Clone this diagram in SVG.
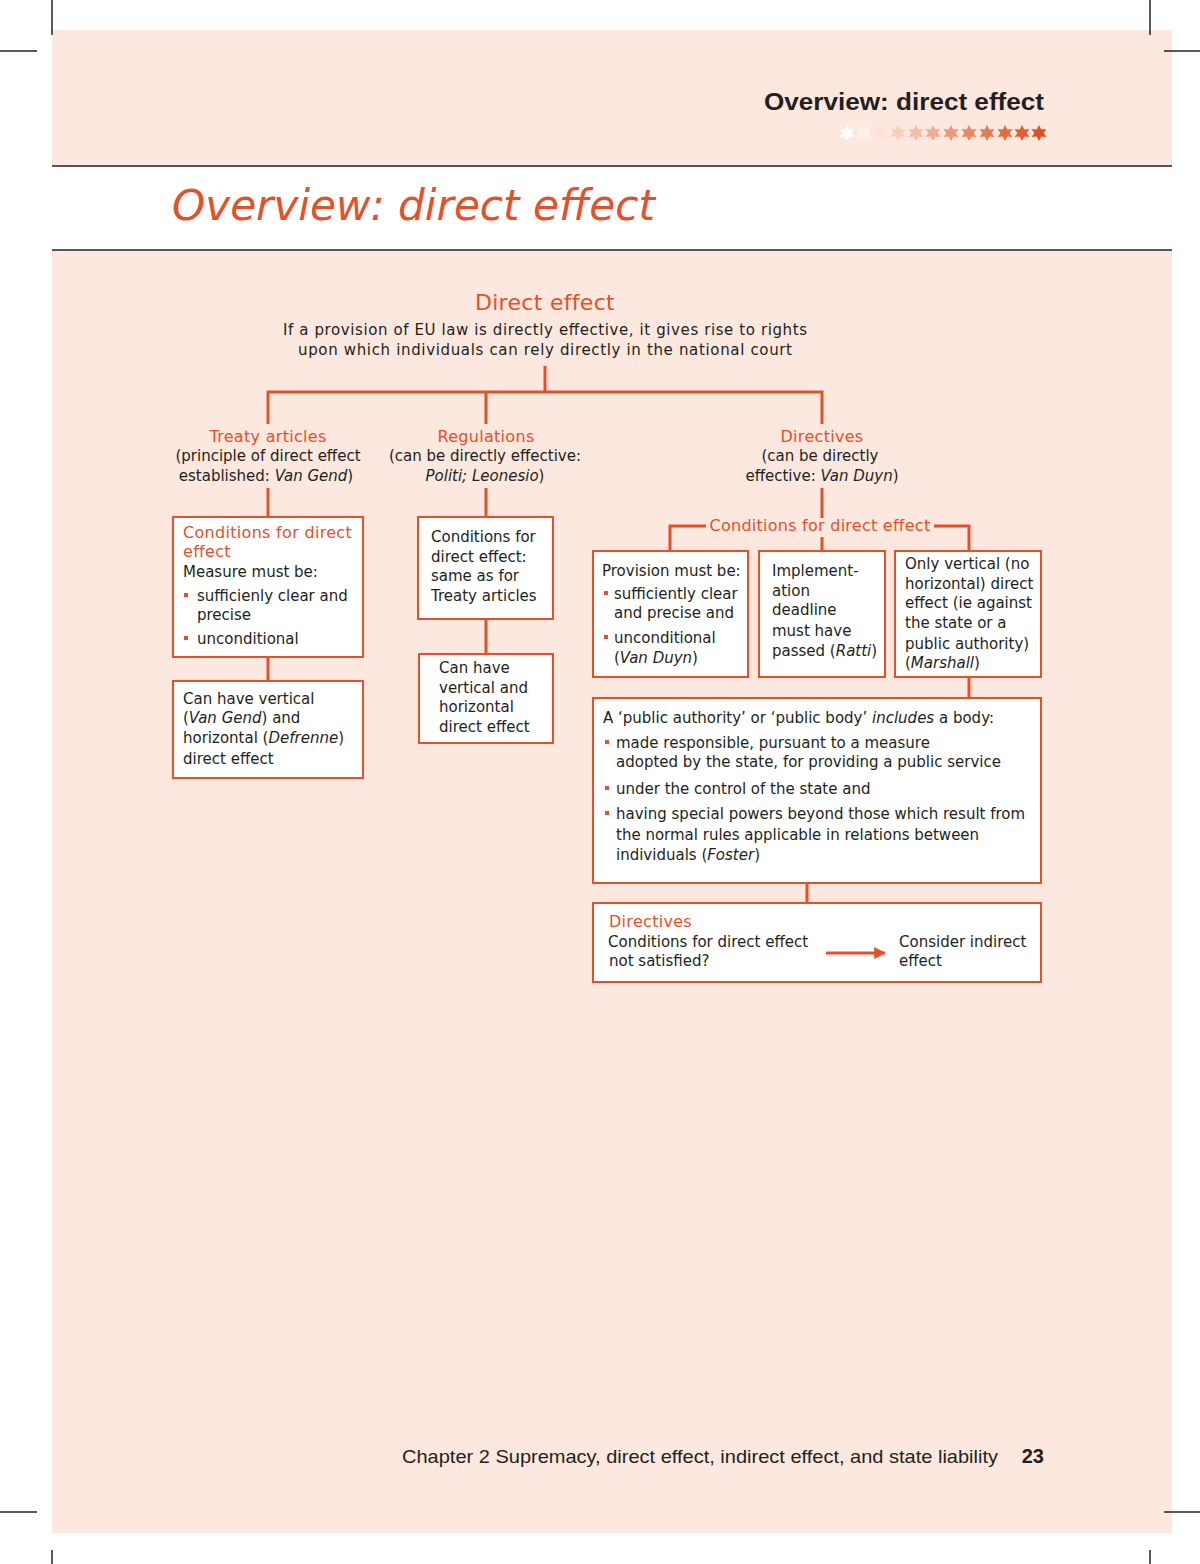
<svg xmlns="http://www.w3.org/2000/svg" width="1200" height="1564" viewBox="0 0 1200 1564">
<style>
.t{font-family:"DejaVu Sans","Liberation Sans",sans-serif;font-size:15px;fill:#231f20}
.o{fill:#e4502a;font-size:16px;letter-spacing:0.3px}
.big{font-size:22px}
.c{text-anchor:middle}
.i{font-style:italic}
.box{fill:#ffffff;stroke:#e4502a;stroke-width:2}
.ln{stroke:#e4502a;stroke-width:3;fill:none}
.crop{stroke:#222;stroke-width:1.5}
.bul{fill:#e4502a}
</style>
<defs>
<path id="star" d="M0,-8 L2.3,-3.5 L7.4,-4 L4.6,0 L7.4,4 L2.3,3.5 L0,8 L-2.3,3.5 L-7.4,4 L-4.6,0 L-7.4,-4 L-2.3,-3.5 Z"/>
<marker id="ah" viewBox="0 0 10 10" refX="9" refY="5" markerWidth="4" markerHeight="4" orient="auto" markerUnits="strokeWidth"><path d="M0,0 L10,5 L0,10 Z" fill="#e4502a"/></marker>
</defs>
<rect x="0" y="0" width="1200" height="1564" fill="#ffffff"/>
<rect x="52" y="30" width="1120" height="1503" fill="#fce8de"/>
<rect x="52" y="166" width="1120" height="84" fill="#ffffff"/>
<line x1="52" y1="166" x2="1172" y2="166" stroke="#555" stroke-width="2"/>
<line x1="52" y1="250" x2="1172" y2="250" stroke="#555" stroke-width="2"/>
<g id="cropmarks">
<line class="crop" x1="52" y1="0" x2="52" y2="35"/>
<line class="crop" x1="1150" y1="0" x2="1150" y2="35"/>
<line class="crop" x1="0" y1="51" x2="37" y2="51"/>
<line class="crop" x1="1164" y1="51" x2="1200" y2="51"/>
<line class="crop" x1="0" y1="1512" x2="37" y2="1512"/>
<line class="crop" x1="1164" y1="1512" x2="1200" y2="1512"/>
<line class="crop" x1="52" y1="1550" x2="52" y2="1564"/>
<line class="crop" x1="1150" y1="1550" x2="1150" y2="1564"/>
</g>
<g id="header">
<text x="1044" y="110" text-anchor="end" font-family="'Liberation Sans','Noto Sans',sans-serif" font-size="24" font-weight="bold" fill="#231f20" textLength="280" lengthAdjust="spacingAndGlyphs">Overview: direct effect</text>
<use href="#star" x="847" y="133" fill="#ffffff"/>
<use href="#star" x="864" y="133" fill="#fdf1eb"/>
<use href="#star" x="881" y="133" fill="#fbe3d8"/>
<use href="#star" x="898" y="133" fill="#f8cfbc"/>
<use href="#star" x="916" y="133" fill="#f5bda5"/>
<use href="#star" x="933" y="133" fill="#f2ab8e"/>
<use href="#star" x="951" y="133" fill="#ee9875"/>
<use href="#star" x="969" y="133" fill="#eb8862"/>
<use href="#star" x="987" y="133" fill="#e87a51"/>
<use href="#star" x="1005" y="133" fill="#e56b41"/>
<use href="#star" x="1022" y="133" fill="#e35d33"/>
<use href="#star" x="1039" y="133" fill="#e04e22"/>
</g>
<text x="172" y="220" font-family="'DejaVu Sans','Noto Sans',sans-serif" font-size="42" font-style="italic" font-weight="200" fill="#e4502a" textLength="483" lengthAdjust="spacingAndGlyphs">Overview: direct effect</text>

<g id="root">
<text class="t o c big" x="545" y="310">Direct effect</text>
<text class="t c" x="545" y="335" textLength="524">If a provision of EU law is directly effective, it gives rise to rights</text>
<text class="t c" x="545" y="355" textLength="494">upon which individuals can rely directly in the national court</text>
</g>

<g id="treaty">
<text class="t o c" x="268" y="442">Treaty articles</text>
<text class="t c" x="268" y="461">(principle of direct effect</text>
<text class="t c" x="266" y="481">established: <tspan class="i">Van Gend</tspan>)</text>
</g>
<g id="treaty-conditions">
<rect class="box" x="173" y="517" width="190" height="140"/>
<text class="t o" x="183" y="538" textLength="169">Conditions for direct</text>
<text class="t o" x="183" y="557">effect</text>
<text class="t" x="183" y="577">Measure must be:</text>
<rect class="bul" x="184" y="593" width="4" height="4"/>
<text class="t" x="197" y="601">sufficienly clear and</text>
<text class="t" x="197" y="620">precise</text>
<rect class="bul" x="184" y="636" width="4" height="4"/>
<text class="t" x="197" y="644">unconditional</text>
</g>
<g id="treaty-effect">
<rect class="box" x="173" y="681" width="190" height="97"/>
<text class="t" x="183" y="704">Can have vertical</text>
<text class="t" x="183" y="723">(<tspan class="i">Van Gend</tspan>) and</text>
<text class="t" x="183" y="743">horizontal (<tspan class="i">Defrenne</tspan>)</text>
<text class="t" x="183" y="764">direct effect</text>
</g>

<g id="regulations">
<text class="t o c" x="486" y="442">Regulations</text>
<text class="t c" x="485" y="461">(can be directly effective:</text>
<text class="t c i" x="485" y="481">Politi; Leonesio<tspan font-style="normal">)</tspan></text>
</g>
<g id="reg-conditions">
<rect class="box" x="418" y="517" width="135" height="102"/>
<text class="t" x="431" y="542">Conditions for</text>
<text class="t" x="431" y="562">direct effect:</text>
<text class="t" x="431" y="581">same as for</text>
<text class="t" x="431" y="601">Treaty articles</text>
</g>
<g id="reg-effect">
<rect class="box" x="419" y="654" width="134" height="89"/>
<text class="t" x="439" y="673">Can have</text>
<text class="t" x="439" y="693">vertical and</text>
<text class="t" x="439" y="712">horizontal</text>
<text class="t" x="439" y="732">direct effect</text>
</g>

<g id="directives">
<text class="t o c" x="822" y="442">Directives</text>
<text class="t c" x="820" y="461">(can be directly</text>
<text class="t c" x="822" y="481">effective: <tspan class="i">Van Duyn</tspan>)</text>
<text class="t o c" x="820" y="531" textLength="221">Conditions for direct effect</text>
</g>
<g id="dir-provision">
<rect class="box" x="593" y="551" width="155" height="126"/>
<text class="t" x="602" y="576">Provision must be:</text>
<rect class="bul" x="604" y="591" width="4" height="4"/>
<text class="t" x="614" y="599">sufficiently clear</text>
<text class="t" x="614" y="618">and precise and</text>
<rect class="bul" x="604" y="635" width="4" height="4"/>
<text class="t" x="614" y="643">unconditional</text>
<text class="t" x="614" y="663">(<tspan class="i">Van Duyn</tspan>)</text>
</g>
<g id="dir-deadline">
<rect class="box" x="759" y="551" width="126" height="126"/>
<text class="t" x="772" y="576">Implement-</text>
<text class="t" x="772" y="596">ation</text>
<text class="t" x="772" y="615">deadline</text>
<text class="t" x="772" y="636">must have</text>
<text class="t" x="772" y="656">passed (<tspan class="i">Ratti</tspan>)</text>
</g>
<g id="dir-vertical">
<rect class="box" x="895" y="551" width="146" height="126"/>
<text class="t" x="905" y="569">Only vertical (no</text>
<text class="t" x="905" y="589">horizontal) direct</text>
<text class="t" x="905" y="608">effect (ie against</text>
<text class="t" x="905" y="628">the state or a</text>
<text class="t" x="905" y="649">public authority)</text>
<text class="t" x="905" y="668">(<tspan class="i">Marshall</tspan>)</text>
</g>
<g id="public-authority">
<rect class="box" x="593" y="698" width="448" height="185"/>
<text class="t" x="603" y="723">A ‘public authority’ or ‘public body’ <tspan class="i">includes</tspan> a body:</text>
<rect class="bul" x="605" y="740" width="4" height="4"/>
<text class="t" x="616" y="748">made responsible, pursuant to a measure</text>
<text class="t" x="616" y="767">adopted by the state, for providing a public service</text>
<rect class="bul" x="605" y="786" width="4" height="4"/>
<text class="t" x="616" y="794">under the control of the state and</text>
<rect class="bul" x="605" y="811" width="4" height="4"/>
<text class="t" x="616" y="819">having special powers beyond those which result from</text>
<text class="t" x="616" y="840">the normal rules applicable in relations between</text>
<text class="t" x="616" y="860">individuals (<tspan class="i">Foster</tspan>)</text>
</g>
<g id="indirect">
<rect class="box" x="593" y="903" width="448" height="79"/>
<text class="t o" x="609" y="927">Directives</text>
<text class="t" x="608" y="947">Conditions for direct effect</text>
<text class="t" x="609" y="966">not satisfied?</text>
<text class="t" x="899" y="947">Consider indirect</text>
<text class="t" x="899" y="966">effect</text>
</g>

<g id="connectors">
<polyline class="ln" points="545,366 545,392"/>
<polyline class="ln" points="268,424 268,392 822,392 822,424"/>
<polyline class="ln" points="486,392 486,424"/>
<line class="ln" x1="268" y1="488" x2="268" y2="517"/>
<line class="ln" x1="268" y1="657" x2="268" y2="681"/>
<line class="ln" x1="486" y1="488" x2="486" y2="517"/>
<line class="ln" x1="486" y1="619" x2="486" y2="654"/>
<line class="ln" x1="822" y1="488" x2="822" y2="518"/>
<polyline class="ln" points="670,551 670,526 706,526"/>
<polyline class="ln" points="934,526 969,526 969,551"/>
<line class="ln" x1="822" y1="537" x2="822" y2="551"/>
<line class="ln" x1="969" y1="677" x2="969" y2="698"/>
<line class="ln" x1="807" y1="883" x2="807" y2="903"/>
<line class="ln" x1="826" y1="953" x2="885" y2="953" marker-end="url(#ah)"/>
</g>

<g id="footer">
<text x="998" y="1463" text-anchor="end" font-family="'Liberation Sans','Noto Sans',sans-serif" font-size="19" fill="#231f20" textLength="596" lengthAdjust="spacingAndGlyphs">Chapter 2 Supremacy, direct effect, indirect effect, and state liability</text>
<text x="1044" y="1463" text-anchor="end" font-family="'Liberation Sans','Noto Sans',sans-serif" font-size="20" font-weight="bold" fill="#231f20">23</text>
</g>
</svg>
